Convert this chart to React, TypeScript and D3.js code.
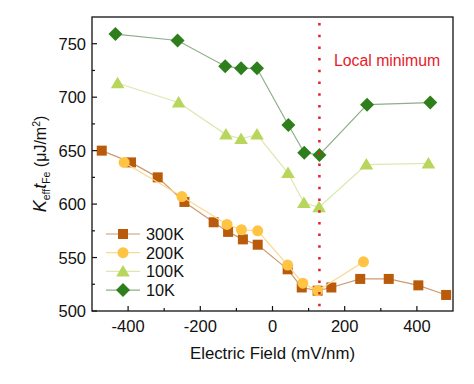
import * as d3 from "d3";

const field300 = [-473, -392, -318, -244, -163, -123, -82, -41, 42, 81, 125, 163, 243, 322, 404, 481];
const k300 = [650, 639, 625, 602, 583, 574, 567, 562, 539, 522, 519, 522, 530, 530, 524, 515];

const field200 = [-411, -251, -126, -86, -41, 42, 84, 125, 252];
const k200 = [639, 607, 581, 576, 575, 543, 526, 519, 546];

const field100 = [-429, -260, -129, -87, -43, 43, 87, 129, 260, 432];
const k100 = [713, 695, 665, 661, 665, 629, 601, 597, 637, 638];

const field10 = [-435, -263, -131, -87, -43, 44, 88, 130, 262, 437];
const k10 = [759, 753, 729, 727, 727, 674, 648, 646, 693, 695];

const xTicks = [-400, -200, 0, 200, 400];
const xMinor = [-300, -100, 100, 300];
const yTicks = [500, 550, 600, 650, 700, 750];
const yMinor = [525, 575, 625, 675, 725];
const localMin = 130;

const series = [
  { name: "300K", xs: field300, ys: k300, shape: "square", fill: "#B95B0B", line: "#CD9A72" },
  { name: "200K", xs: field200, ys: k200, shape: "circle", fill: "#FFC444", line: "#FBD88E" },
  { name: "100K", xs: field100, ys: k100, shape: "triangle", fill: "#B8D55C", line: "#DCE8B0" },
  { name: "10K", xs: field10, ys: k10, shape: "diamond", fill: "#2E7F1B", line: "#8FAE8C" },
];

const W = 474;
const H = 384;
const m = { left: 92, right: 453, top: 17, bottom: 311 };
const font = "'Liberation Sans', Arial, sans-serif";

function Marker({ shape, fill, cx, cy }: { shape: string; fill: string; cx: number; cy: number }) {
  if (shape === "square") return <rect x={cx - 5} y={cy - 5} width={10} height={10} fill={fill} />;
  if (shape === "circle") return <circle cx={cx} cy={cy} r={5.5} fill={fill} />;
  if (shape === "triangle")
    return <path d={`M${cx},${cy - 6.5}L${cx + 6.8},${cy + 5}L${cx - 6.8},${cy + 5}Z`} fill={fill} />;
  return <path d={`M${cx},${cy - 7}L${cx + 7},${cy}L${cx},${cy + 7}L${cx - 7},${cy}Z`} fill={fill} />;
}

export default function App() {
  const x = d3.scaleLinear().domain([-500, 500]).range([m.left, m.right]);
  const y = d3.scaleLinear().domain([500, 775]).range([m.bottom, m.top]);
  const line = d3
    .line<[number, number]>()
    .x((d) => x(d[0]))
    .y((d) => y(d[1]));

  return (
    <div style={{ position: "absolute", left: 0, top: 0 }}>
      <svg width={W} height={H} style={{ display: "block", background: "#fff" }} fontFamily={font}>
        {/* series */}
        {series.map((s) => {
          const pts = s.xs.map((v, i) => [v, s.ys[i]] as [number, number]);
          return (
            <g key={s.name}>
              <path d={line(pts) ?? ""} fill="none" stroke={s.line} strokeWidth={1.2} />
              {pts.map((p, i) => (
                <Marker key={i} shape={s.shape} fill={s.fill} cx={x(p[0])} cy={y(p[1])} />
              ))}
            </g>
          );
        })}

        {/* local minimum marker */}
        <line
          x1={x(localMin)}
          x2={x(localMin)}
          y1={m.top + 6}
          y2={m.bottom}
          stroke="#E0202E"
          strokeWidth={2.5}
          strokeDasharray="2.5,9.2"
        />
        <text x={334} y={66} fontSize={15.8} fill="#E8192C">
          Local minimum
        </text>

        {/* frame */}
        <rect
          x={m.left}
          y={m.top}
          width={m.right - m.left}
          height={m.bottom - m.top}
          fill="none"
          stroke="#111"
          strokeWidth={1.3}
        />

        {/* x ticks */}
        {xTicks.map((t) => (
          <g key={t}>
            <line x1={x(t)} x2={x(t)} y1={m.bottom} y2={m.bottom - 5} stroke="#111" strokeWidth={1.2} />
            <text x={x(t)} y={m.bottom + 21} fontSize={16.5} textAnchor="middle" fill="#111">
              {t}
            </text>
          </g>
        ))}
        {xMinor.map((t) => (
          <line key={t} x1={x(t)} x2={x(t)} y1={m.bottom} y2={m.bottom - 3} stroke="#111" strokeWidth={1.2} />
        ))}

        {/* y ticks */}
        {yTicks.map((t) => (
          <g key={t}>
            <line x1={m.left} x2={m.left + 5} y1={y(t)} y2={y(t)} stroke="#111" strokeWidth={1.2} />
            <text x={m.left - 6} y={y(t) + 6} fontSize={16.5} textAnchor="end" fill="#111">
              {t}
            </text>
          </g>
        ))}
        {yMinor.map((t) => (
          <line key={t} x1={m.left} x2={m.left + 3} y1={y(t)} y2={y(t)} stroke="#111" strokeWidth={1.2} />
        ))}

        {/* axis titles */}
        <text x={(m.left + m.right) / 2} y={359} fontSize={16.8} textAnchor="middle" fill="#111">
          Electric Field (mV/nm)
        </text>
        <text transform={`translate(46,${(m.top + m.bottom) / 2}) rotate(-90)`} fontSize={16} textAnchor="middle" fill="#111">
          <tspan fontStyle="italic" fontSize={18}>K</tspan>
          <tspan fontSize={10.5} dy={4}>eff</tspan>
          <tspan fontStyle="italic" fontSize={18} dy={-4}>t</tspan>
          <tspan fontSize={10.5} dy={4}>Fe</tspan>
          <tspan dy={-4}> (μJ/m</tspan>
          <tspan fontSize={10.5} dy={-6}>2</tspan>
          <tspan dy={6}>)</tspan>
        </text>

        {/* legend */}
        {series.map((s, i) => {
          const ly = 234 + i * 18.7;
          return (
            <g key={s.name}>
              <line x1={106} x2={140} y1={ly} y2={ly} stroke={s.line} strokeWidth={1.2} />
              <Marker shape={s.shape} fill={s.fill} cx={123} cy={ly} />
              <text x={146} y={ly + 6} fontSize={16.3} fill="#111">
                {s.name}
              </text>
            </g>
          );
        })}
      </svg>
    </div>
  );
}
